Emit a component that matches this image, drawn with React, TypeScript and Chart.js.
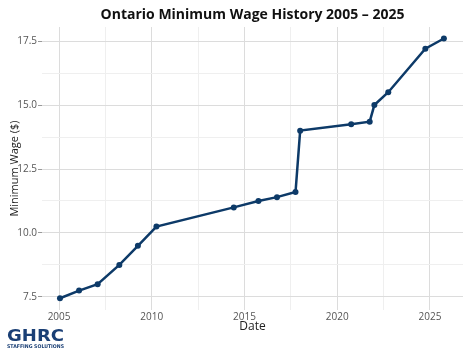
import React, { useEffect, useRef } from "react";
import { Chart, registerables } from "chart.js";

Chart.register(...registerables);

// Decimal year of each minimum-wage change
const years = [2005.05, 2006.08, 2007.08, 2008.25, 2009.25, 2010.25, 2014.42, 2015.75, 2016.75, 2017.75, 2018.0, 2020.75, 2021.75, 2022.0, 2022.75, 2024.75, 2025.75];
const wages = [7.45, 7.75, 8.0, 8.75, 9.5, 10.25, 11.0, 11.25, 11.4, 11.6, 14.0, 14.25, 14.35, 15.0, 15.5, 17.2, 17.6];

const xMajorTicks = [2005, 2010, 2015, 2020, 2025];
const xMinorTicks = [2007.5, 2012.5, 2017.5, 2022.5];
const yMajorTicks = [7.5, 10.0, 12.5, 15.0, 17.5];
const yMinorTicks = [8.75, 11.25, 13.75, 16.25];

const titleText = "Ontario Minimum Wage History 2005 – 2025";
const xTitle = "Date";
const yTitle = "Minimum Wage ($)";

const LINE = "#0d3a68";
const MAJOR_GRID = "#dcdcdc";
const MINOR_GRID = "#efefef";

const overlay = {
  id: "overlay",
  afterDraw(chart: any) {
    const { ctx, chartArea } = chart;
    const cx = (chartArea.left + chartArea.right) / 2;
    ctx.save();
    // Title
    ctx.fillStyle = "#111";
    ctx.font = "bold 14px 'Open Sans'";
    ctx.textAlign = "center";
    ctx.textBaseline = "middle";
    ctx.fillText(titleText, cx, 15);
    // X title
    ctx.fillStyle = "#222";
    ctx.font = "500 12px 'Open Sans'";
    ctx.fillText(xTitle, cx, 327);
    // Y title
    ctx.save();
    ctx.translate(15, (chartArea.top + chartArea.bottom) / 2);
    ctx.rotate(-Math.PI / 2);
    ctx.font = "11px 'Open Sans'";
    ctx.fillStyle = "#222";
    ctx.fillText(yTitle, 0, 0);
    ctx.restore();
    // Logo
    ctx.fillStyle = "#1a3f75";
    ctx.textAlign = "left";
    ctx.textBaseline = "alphabetic";
    ctx.font = "900 15px 'DejaVu Sans'";
    const w = ctx.measureText("GHRC").width;
    ctx.save();
    ctx.translate(7, 340.5);
    ctx.scale(57 / w, 1);
    ctx.fillText("GHRC", 0, 0);
    ctx.restore();
    ctx.font = "bold 5px 'DejaVu Sans'";
    const w2 = ctx.measureText("STAFFING SOLUTIONS").width;
    ctx.save();
    ctx.translate(7, 347.5);
    ctx.scale(57 / w2, 1);
    ctx.fillText("STAFFING SOLUTIONS", 0, 0);
    ctx.restore();
    ctx.restore();
  },
};

export default function App() {
  const ref = useRef<HTMLCanvasElement | null>(null);
  useEffect(() => {
    document.body.style.margin = "0";
    const points = years.map((x, i) => ({ x, y: wages[i] }));
    const xTicks = [...xMajorTicks, ...xMinorTicks].sort((a, b) => a - b);
    const yTicks = [...yMajorTicks, ...yMinorTicks].sort((a, b) => a - b);
    const chart = new Chart(ref.current as HTMLCanvasElement, {
      type: "line",
      data: {
        datasets: [
          {
            data: points,
            borderColor: LINE,
            backgroundColor: LINE,
            borderWidth: 2.5,
            pointRadius: 3,
            pointBorderWidth: 0,
            tension: 0,
          },
        ],
      },
      options: {
        animation: false,
        responsive: false,
        layout: { padding: { top: 27, right: 11, left: 0, bottom: 0 } },
        plugins: { legend: { display: false }, tooltip: { enabled: false }, title: { display: false } },
        scales: {
          x: {
            type: "linear",
            min: 2004.08,
            max: 2026.78,
            afterBuildTicks: (s: any) => {
              s.ticks = xTicks.map((v) => ({ value: v }));
            },
            afterFit: (s: any) => {
              s.height = 45;
            },
            border: { display: false },
            grid: {
              color: (c: any) => (c.tick && xMajorTicks.includes(c.tick.value) ? MAJOR_GRID : MINOR_GRID),
              tickLength: 0,
            },
            ticks: {
              autoSkip: false,
              maxRotation: 0,
              padding: 1,
              color: "#555",
              font: { family: "'Open Sans'", size: 10 },
              callback: (v: any) => (xMajorTicks.includes(Number(v)) ? String(v) : ""),
            },
          },
          y: {
            type: "linear",
            min: 6.99,
            max: 18.05,
            afterBuildTicks: (s: any) => {
              s.ticks = yTicks.map((v) => ({ value: v }));
            },
            afterFit: (s: any) => {
              s.width = 42;
            },
            border: { display: false },
            grid: {
              color: (c: any) => (c.tick && yMajorTicks.includes(c.tick.value) ? MAJOR_GRID : MINOR_GRID),
              tickColor: (c: any) => (c.tick && yMajorTicks.includes(c.tick.value) ? "#999" : "rgba(0,0,0,0)"),
              tickLength: 4,
            },
            ticks: {
              autoSkip: false,
              padding: 1,
              color: "#555",
              font: { family: "'Open Sans'", size: 10 },
              callback: (v: any) => (yMajorTicks.includes(Number(v)) ? Number(v).toFixed(1) : ""),
            },
          },
        },
      },
      plugins: [overlay],
    });
    return () => chart.destroy();
  }, []);
  return (
    <div style={{ width: 474, height: 355, background: "#fff" }}>
      <canvas ref={ref} width={474} height={355} />
    </div>
  );
}
